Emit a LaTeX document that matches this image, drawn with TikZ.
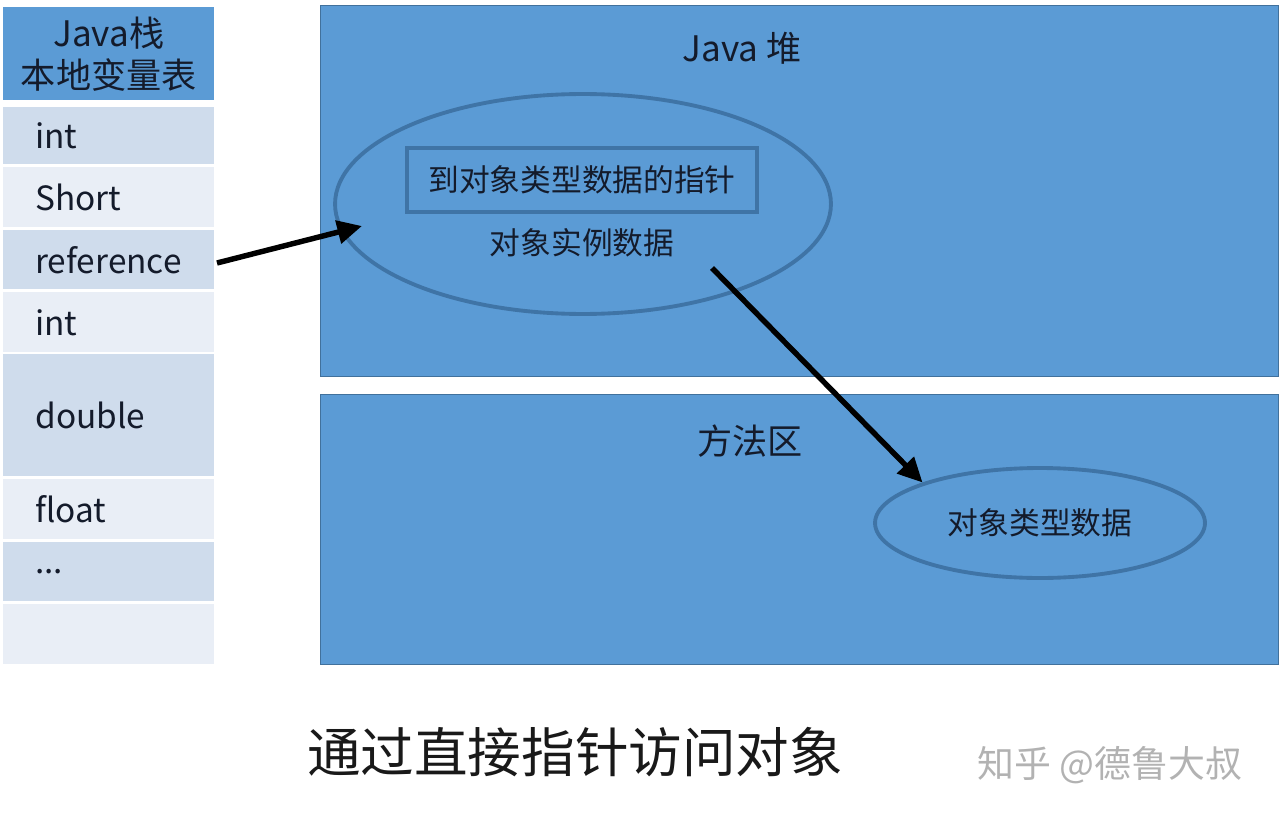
\documentclass[tikz,border=0pt]{standalone}
\usepackage{fontspec}
\setmainfont{Noto Sans CJK SC}
\usepackage{tikz}
\usetikzlibrary{
    arrows.meta,
    shapes.geometric,
    positioning
}
\definecolor{areablue}{HTML}{5B9BD5}
\definecolor{areaedge}{HTML}{41719C}
\definecolor{ringblue}{HTML}{3F74A6}
\definecolor{celldark}{HTML}{CFDCEC}
\definecolor{celllight}{HTML}{E9EEF6}
\definecolor{inkc}{HTML}{141B2B}
\tikzset{
    area/.style={draw=areaedge, line width=0.8pt, fill=areablue, anchor=north west},
    cell/.style={anchor=north west, minimum width=4.22cm, inner xsep=0.64cm,
        text width=2.94cm, align=left, text=inkc, font=\fontsize{19}{22}\selectfont},
    objring/.style={ellipse, draw=ringblue, line width=2.2pt, text=inkc},
    ptrbox/.style={draw=ringblue, line width=2.2pt, text=inkc, inner sep=0pt},
    lbl/.style={text=inkc, inner sep=0pt},
    arr/.style={line width=3.1pt, -{Triangle[length=14pt, width=13pt]}}
}

\begin{document}
\begin{tikzpicture}[x=0.02cm, y=-0.02cm]
    \useasboundingbox (0, 0) rectangle (1280, 814);

    % Java stack
    \node[cell, fill=areablue, minimum height=1.86cm, align=center, inner xsep=0pt,
        text width=4.22cm, font=\fontsize{20}{24}\selectfont] (hdr) at (3, 7) {Java栈\\本地变量表};
    \node[cell, fill=celldark, minimum height=1.14cm] (r1) at (3, 107) {int};
    \node[cell, fill=celllight, minimum height=1.2cm] (r2) at (3, 167) {Short};
    \node[cell, fill=celldark, minimum height=1.18cm] (r3) at (3, 230) {reference};
    \node[cell, fill=celllight, minimum height=1.2cm] (r4) at (3, 292) {int};
    \node[cell, fill=celldark, minimum height=2.44cm] (r5) at (3, 354) {double};
    \node[cell, fill=celllight, minimum height=1.2cm] (r6) at (3, 479) {float};
    \node[cell, fill=celldark, minimum height=1.18cm] (r7) at (3, 542) {...};
    \node[cell, fill=celllight, minimum height=1.2cm] (r8) at (3, 604) {};

    % heap and method area
    \node[area, minimum width=19.16cm, minimum height=7.42cm] (heap) at (320, 5) {};
    \node[area, minimum width=19.16cm, minimum height=5.4cm] (meth) at (320, 394) {};
    \node[lbl, font=\fontsize{20}{24}\selectfont] (heaplbl) at (742, 48) {Java 堆};
    \node[lbl, font=\fontsize{20}{24}\selectfont] (methlbl) at (750, 441) {方法区};

    \node[objring, minimum width=9.92cm, minimum height=4.4cm] (inst) at (583, 204) {};
    \node[ptrbox, minimum width=7cm, minimum height=1.28cm,
        font=\fontsize{17.5}{20}\selectfont] (ptr) at (582, 180) {到对象类型数据的指针};
    \node[lbl, font=\fontsize{17.5}{20}\selectfont] (instlbl) at (582, 243) {对象实例数据};

    \node[objring, minimum width=6.6cm, minimum height=2.2cm,
        font=\fontsize{17.5}{20}\selectfont] (typ) at (1040, 523) {对象类型数据};

    % pointers
    \coordinate (refout) at (217, 263);
    \coordinate (refin) at (362, 226);
    \coordinate (ptrout) at (712, 268);
    \draw[arr] (refout) -- (refin);
    \draw[arr] (ptrout) -- (typ.161);

    % caption
    \node[lbl, text=black!90, font=\fontsize{30.5}{36}\selectfont] (cap) at (575, 752) {通过直接指针访问对象};
    \node[lbl, text=black!30, font=\fontsize{21}{25}\selectfont] (mark) at (1110, 765) {知乎 @德鲁大叔};
\end{tikzpicture}
\end{document}
